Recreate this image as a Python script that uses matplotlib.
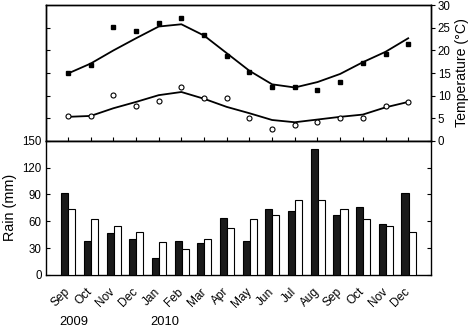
import matplotlib.pyplot as plt
import numpy as np
from matplotlib.transforms import blended_transform_factory

plt.rcParams['font.family'] = ['Liberation Sans', 'DejaVu Sans']

MONTHS = ["Sep", "Oct", "Nov", "Dec", "Jan", "Feb", "Mar", "Apr",
          "May", "Jun", "Jul", "Aug", "Sep", "Oct", "Nov", "Dec"]
YEARS = ["2009", "2010"]
YEAR_START = [0, 4]

# monthly temperatures (deg C): observed points and smoothed curves
T_MAX_OBS = [14.9, 16.8, 25.2, 24.4, 26.1, 27.3, 23.4, 18.8,
             15.3, 12.0, 11.8, 11.3, 13.0, 17.3, 19.2, 21.5]
T_MAX_FIT = [14.9, 17.1, 20.0, 22.7, 25.3, 25.8, 23.3, 19.4,
             15.5, 12.5, 11.8, 13.0, 14.8, 17.4, 19.7, 22.7]
T_MIN_OBS = [5.4, 5.4, 10.2, 7.7, 8.7, 12.0, 9.5, 9.5,
             5.0, 2.5, 3.5, 4.1, 5.0, 5.0, 7.6, 8.6]
T_MIN_FIT = [5.3, 5.5, 7.2, 8.6, 10.1, 10.8, 9.3, 7.5,
             6.1, 4.6, 4.1, 4.7, 5.3, 5.8, 7.4, 8.6]

# monthly rainfall (mm)
RAIN_MONTH = [91.5, 38.0, 46.5, 40.5, 18.5, 37.8, 35.5, 64.0,
              37.8, 74.0, 72.0, 141.0, 66.7, 76.0, 57.4, 91.5]
RAIN_MEAN = [73.7, 62.5, 54.4, 47.5, 36.7, 28.5, 40.4, 52.2,
             62.0, 67.4, 83.7, 83.7, 73.3, 62.0, 54.4, 48.1]

x = np.arange(len(MONTHS))

fig = plt.figure(figsize=(4.74, 3.32), dpi=100)
left, right = 0.097, 0.909
ax_t = fig.add_axes([left, 0.576, right - left, 0.984 - 0.576])
ax_r = fig.add_axes([left, 0.172, right - left, 0.576 - 0.172], sharex=ax_t)

# temperature panel: unlabelled inner ticks on the left, scale on the right
ax_t.plot(x, T_MAX_FIT, color='black', lw=1.3, zorder=2)
ax_t.plot(x, T_MIN_FIT, color='black', lw=1.3, zorder=2)
ax_t.plot(x, T_MAX_OBS, ls='none', marker='s', ms=3.3, color='black', zorder=3)
ax_t.plot(x, T_MIN_OBS, ls='none', marker='o', ms=3.6, mfc='white',
          mec='black', mew=0.8, zorder=3)
ax_t.set_ylim(0, 30)
ax_t.set_xticks(x)
ax_t.tick_params(axis='x', direction='in', length=3, labelbottom=False)

tr = ax_t.twinx()
tr.set_ylim(0, 30)
tr.set_yticks(np.arange(0, 31, 5))
tr.set_ylabel("Temperature (\u00b0C)", fontsize=10.2, labelpad=3)
tr.tick_params(axis='y', direction='out', length=3, labelsize=8.3, pad=2)

ax_t.set_yticks(np.arange(5, 30, 5))
ax_t.yaxis.tick_left()
ax_t.tick_params(axis='y', direction='in', length=3, labelleft=False)

# rainfall panel
w = 0.31
ax_r.bar(x - 0.14, RAIN_MONTH, width=w, color='#1a1a1a', edgecolor='black',
         lw=0.8, zorder=3)
ax_r.bar(x + 0.17, RAIN_MEAN, width=w, color='white', edgecolor='black',
         lw=0.8, zorder=3)
ax_r.set_ylim(0, 150)
ax_r.set_yticks(np.arange(0, 151, 30))
ax_r.set_ylabel("Rain (mm)", fontsize=10.4, labelpad=4)
ax_r.tick_params(axis='y', direction='in', length=3, labelsize=8.3, pad=3,
                 right=True, labelright=False)
ax_r.tick_params(axis='x', length=0, pad=11)
ax_r.set_xticks(x)
ax_r.set_xticklabels(MONTHS, rotation=45, ha='right', va='center',
                     rotation_mode='anchor', fontsize=8.6)
ax_r.set_xlim(-0.97, 16.0)

for ax in (ax_t, ax_r, tr):
    for sp in ax.spines.values():
        sp.set_linewidth(1.0)

trans = blended_transform_factory(ax_r.transData, fig.transFigure)
for yr, pos in zip(YEARS, YEAR_START):
    fig.text(pos + 0.25, 0.012, yr, transform=trans, ha='center',
             va='bottom', fontsize=9.3)

fig.savefig("out.png", dpi=100)
